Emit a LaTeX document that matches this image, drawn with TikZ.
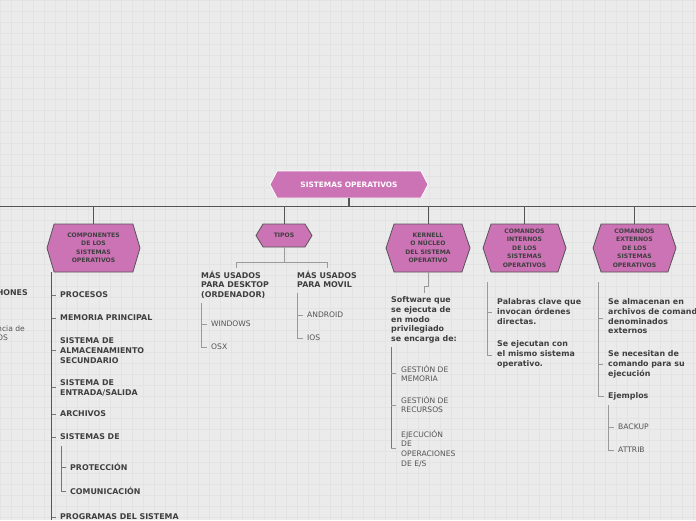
\documentclass[tikz,border=0pt]{standalone}
\usepackage{fontspec}
\setmainfont{DejaVu Sans}
\usetikzlibrary{shapes.symbols}
\definecolor{bg}{HTML}{EBEBEB}
\definecolor{gridc}{HTML}{E3E3E3}
\definecolor{pinkc}{HTML}{CC73B5}
\definecolor{txt}{HTML}{3F3F3F}
\definecolor{ltxt}{HTML}{555555}
\definecolor{mline}{HTML}{555555}
\definecolor{sline}{HTML}{9A9A9A}
\tikzset{
 hexa/.style={signal, signal to=west and east, draw=mline, fill=pinkc, line width=0.8pt, inner sep=0pt, align=center, text=txt, font=\fontsize{6.1}{8.5}\selectfont\bfseries},
 item/.style={anchor=west, inner sep=0pt, align=left, text=txt, font=\fontsize{7.9}{9.9}\selectfont\bfseries},
 sitem/.style={anchor=west, inner sep=0pt, align=left, text=ltxt, font=\fontsize{7.6}{9.6}\selectfont},
 mainln/.style={draw=mline, line width=1pt},
 subln/.style={draw=sline, line width=0.8pt},
 treeln/.style={draw=mline!80, line width=0.8pt},
}
\begin{document}
\begin{tikzpicture}[x=1pt,y=-1pt]
\useasboundingbox (0,0) rectangle (696,520);
\clip (0,0) rectangle (696,520);
\fill[bg] (0,0) rectangle (696,520);
\draw[gridc, line width=0.5pt, step=11pt] (0,0) grid (696,520);
% root
\node[hexa, minimum width=158pt, minimum height=27pt, signal pointer angle=125, draw=white, text=white, font=\fontsize{7.4}{9}\selectfont\bfseries] (root) at (349,184.5) {SISTEMAS OPERATIVOS};
\coordinate (hl) at (0,206); \coordinate (hr) at (696,206);
\draw[mainln] (hl) -- (hr);
\draw[mline, line width=2pt] (root.south) -- (349,206);
% level 1
\node[hexa, minimum width=93pt, minimum height=48pt, signal pointer angle=147] (comp) at (93.5,248) {COMPONENTES\\DE LOS\\SISTEMAS\\OPERATIVOS};
\node[hexa, minimum width=56pt, minimum height=23pt, signal pointer angle=117] (tipos) at (284,235.5) {TIPOS};
\node[hexa, minimum width=84pt, minimum height=48pt, signal pointer angle=143] (kern) at (428,248) {KERNELL\\O NÚCLEO\\DEL SISTEMA\\OPERATIVO};
\node[hexa, minimum width=83pt, minimum height=48pt, signal pointer angle=143] (cint) at (524.5,248) {COMANDOS\\INTERNOS\\DE LOS\\SISTEMAS\\OPERATIVOS};
\node[hexa, minimum width=83pt, minimum height=48pt, signal pointer angle=143] (cext) at (634.5,248) {COMANDOS\\EXTERNOS\\DE LOS\\SISTEMAS\\OPERATIVOS};
\foreach \n in {comp,tipos,kern,cint,cext} \draw[mainln] (\n.north) -- (\n.north |- hl);
% left clipped
\node[item, anchor=east] (hon) at (28,293) {HONES};
\node[sitem] (ncia) at (-3,333) {ncia de\\OS};
% components list
\foreach \t/\y [count=\i] in {PROCESOS/295, MEMORIA PRINCIPAL/318, {SISTEMA DE\\ALMACENAMIENTO\\SECUNDARIO}/350.5, {SISTEMA DE\\ENTRADA/SALIDA}/387.5, ARCHIVOS/414, SISTEMAS DE/437, PROGRAMAS DEL SISTEMA/517}
 {\node[item] (c\i) at (60,\y) {\t};
  \draw[treeln] (51,\y) -- ([xshift=-4pt]c\i.west);}
\draw[mainln] (comp.south -| 51,0) -- (51,520);
\draw[treeln] (61,446) -- (61,491);
\node[item] (prot) at (70,467) {PROTECCIÓN};
\node[item] (comu) at (70,491) {COMUNICACIÓN};
\draw[treeln] (61,467) -- ([xshift=-4pt]prot.west);
\draw[treeln] (61,491) -- ([xshift=-4pt]comu.west);
% tipos
\node[item, anchor=north west] (desk) at (201,270.5) {MÁS USADOS\\PARA DESKTOP\\(ORDENADOR)};
\node[item, anchor=north west] (movil) at (297,270.5) {MÁS USADOS\\PARA MOVIL};
\draw[subln] (tipos.south) -- (284,262);
\draw[subln] (236,268) -- (236,262) -- (327,262) -- (327,268);
\draw[subln] (201,303) -- (201,347);
\node[sitem] (win) at (211,324) {WINDOWS};
\node[sitem] (osx) at (211,347) {OSX};
\draw[subln] (201,324) -- ([xshift=-4pt]win.west);
\draw[subln] (201,347) -- ([xshift=-4pt]osx.west);
\draw[subln] (297,293) -- (297,338);
\node[sitem] (andr) at (307,315) {ANDROID};
\node[sitem] (ios) at (307,338) {IOS};
\draw[subln] (297,315) -- ([xshift=-4pt]andr.west);
\draw[subln] (297,338) -- ([xshift=-4pt]ios.west);
% kernel
\node[item, anchor=north west] (soft) at (391,296) {Software que\\se ejecuta de\\en modo\\privilegiado\\se encarga de:};
\draw[subln] (kern.south) -- (428,286) -- (424,286) -- (424,293);
\draw[treeln] (391,347) -- (391,448);
\node[sitem, anchor=north west] (gm) at (401,365) {GESTIÓN DE\\MEMORIA};
\node[sitem, anchor=north west] (gr) at (401,396) {GESTIÓN DE\\RECURSOS};
\node[sitem, anchor=north west] (ej) at (401,430) {EJECUCIÓN\\DE\\OPERACIONES\\DE E/S};
\draw[subln] (391,373) -- (396,373);
\draw[subln] (391,405) -- (396,405);
\draw[subln] (391,448) -- (396,448);
% internos
\draw[subln] (487,282) -- (487,355);
\node[item, anchor=north west] (pal) at (497,298) {Palabras clave que\\invocan órdenes\\directas.};
\node[item, anchor=north west] (sej) at (497,340) {Se ejecutan con\\el mismo sistema\\operativo.};
\draw[subln] (487,312) -- (492,312);
\draw[subln] (487,355) -- (492,355);
% externos
\draw[subln] (598,282) -- (598,396);
\node[item, anchor=north west] (salm) at (608,298) {Se almacenan en\\archivos de comandos\\denominados\\externos};
\node[item, anchor=north west] (snec) at (608,350) {Se necesitan de\\comando para su\\ejecución};
\node[item] (ejem) at (608,396) {Ejemplos};
\draw[subln] (598,318) -- (603,318);
\draw[subln] (598,364) -- (603,364);
\draw[subln] (598,396) -- ([xshift=-4pt]ejem.west);
\draw[subln] (608,405) -- (608,450);
\node[sitem] (back) at (618,427) {BACKUP};
\node[sitem] (attr) at (618,450) {ATTRIB};
\draw[subln] (608,427) -- ([xshift=-4pt]back.west);
\draw[subln] (608,450) -- ([xshift=-4pt]attr.west);
\end{tikzpicture}
\end{document}
